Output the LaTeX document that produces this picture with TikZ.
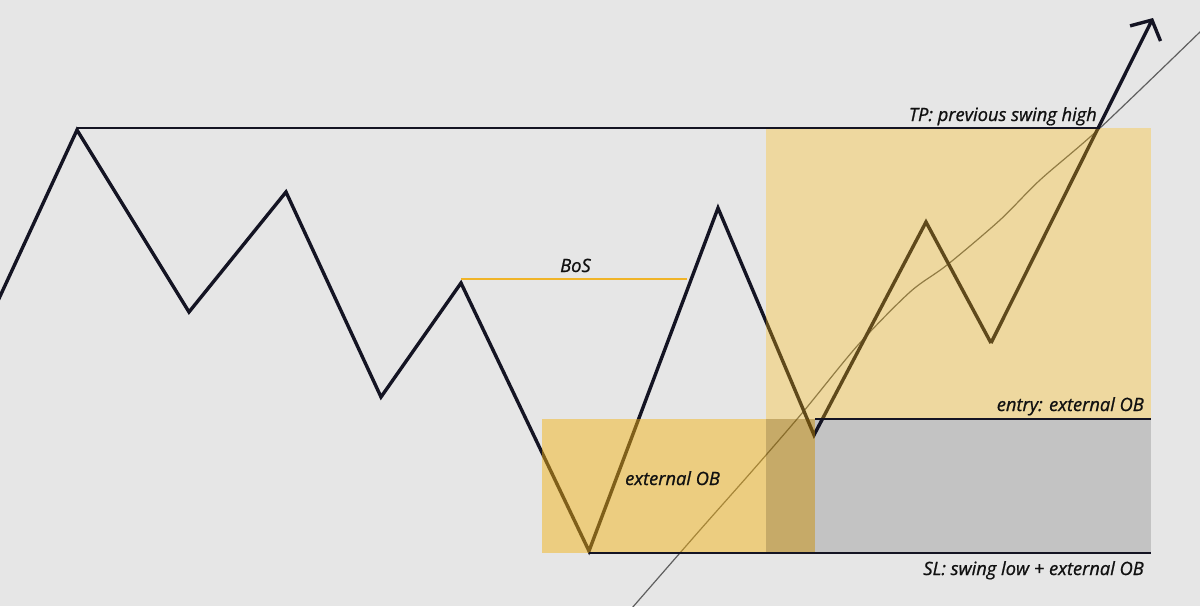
\documentclass[tikz,border=0pt]{standalone}
\usepackage{fontspec}
\setmainfont{Open Sans}[ItalicFeatures={FakeBold=0.9}]
\usetikzlibrary{arrows.meta}
\definecolor{bgc}{RGB}{230,230,230}
\definecolor{greybox}{RGB}{195,195,195}
\definecolor{zig}{RGB}{20,20,35}
\definecolor{upgold}{RGB}{255,187,12}
\definecolor{lowgold}{RGB}{244,178,17}
\definecolor{ovgold}{RGB}{172,121,1}
\definecolor{bosc}{RGB}{240,180,40}
\definecolor{mac}{RGB}{95,95,95}
\definecolor{txt}{RGB}{17,17,17}
\begin{document}
\begin{tikzpicture}[x=1pt,y=-1pt,
  zigline/.style={draw=zig,line width=3.4pt,line join=miter},
  levelline/.style={draw=zig,line width=2pt},
  lbl/.style={text=txt,font=\itshape\fontsize{18.3}{21}\selectfont,inner sep=0pt}]
\useasboundingbox (0,0) rectangle (1200,606);
\fill[bgc] (0,0) rectangle (1200,606);
% grey stop box
\fill[greybox] (815,419) rectangle (1151,553);
% zigzag coordinates
\coordinate (p0) at (-4,305);
\coordinate (p1) at (77,130);
\coordinate (p2) at (189,312);
\coordinate (p3) at (286,192);
\coordinate (p4) at (381,397);
\coordinate (p5) at (461,283);
\coordinate (p6) at (589,551);
\coordinate (p7) at (718,208);
\coordinate (p8) at (814,435);
\coordinate (p9) at (926,222);
\coordinate (p10) at (991,343);
\coordinate (p11) at (1153,18);
% moving average
\draw[mac,line width=1.2pt] plot[smooth,tension=0.5] coordinates {(632,608) (700,530) (753,470) (803,412) (858,345) (910,292) (947,265) (1000,220) (1040,180) (1100,128) (1202,30)};
% price path
\draw[zigline] (p0) -- (p1) -- (p2) -- (p3) -- (p4) -- (p5) -- (p6) -- (p7) -- (p8) -- (p9) -- (p10);
\draw[zigline,-{Straight Barb[length=15pt,width=34pt]}] (p10) -- (p11);
% translucent boxes
\fill[upgold,opacity=0.32] (766,128) rectangle (1151,419);
\fill[lowgold,opacity=0.48] (542,419) rectangle (766,553);
\fill[ovgold,opacity=0.55] (766,419) rectangle (815,553);
% level lines
\coordinate (tpA) at (77,128);
\coordinate (tpB) at (1100,128);
\coordinate (enA) at (815,419);
\coordinate (enB) at (1151,419);
\coordinate (slA) at (589,553);
\coordinate (slB) at (1151,553);
\coordinate (bosA) at (461,279);
\coordinate (bosB) at (687,279);
\draw[levelline] (tpA) -- (tpB);
\draw[levelline] (enA) -- (enB);
\draw[levelline,line width=2.4pt] (slA) -- (slB);
\draw[bosc,line width=1.8pt] (bosA) -- (bosB);
% labels
\node[lbl,anchor=base east] (tp) at (1097,121) {TP: previous swing high};
\node[lbl,anchor=base east] (entry) at (1144,411) {entry: external OB};
\node[lbl,anchor=base east] (sl) at (1144,575) {SL: swing low + external OB};
\node[lbl,anchor=base west] (ob) at (625,485) {external OB};
\node[lbl,anchor=base west] (bos) at (560,272) {BoS};
\end{tikzpicture}
\end{document}
